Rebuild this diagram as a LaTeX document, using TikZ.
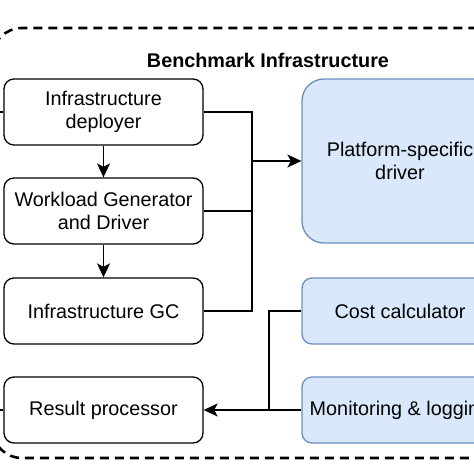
\documentclass[tikz,border=0pt]{standalone}
\usepackage{fontspec}
\setmainfont{Liberation Sans}
\usetikzlibrary{arrows.meta}
\definecolor{bluefill}{HTML}{DAE8FC}
\definecolor{bluedraw}{HTML}{6C8EBF}
\tikzset{
  whitebox/.style={draw=black, fill=white, line width=1.3pt, rounded corners=10pt,
    minimum width=199pt, minimum height=66pt, inner sep=0pt, align=center,
    font=\fontsize{19.8}{23.5}\selectfont},
  bluebox/.style={draw=bluedraw, fill=bluefill, line width=1.3pt, rounded corners=10pt,
    minimum width=196pt, minimum height=66pt, inner sep=0pt, align=center,
    font=\fontsize{19.8}{23.5}\selectfont},
  conn/.style={draw=black, line width=1.3pt},
  arr/.style={conn, -{Stealth[length=14pt, width=13pt, inset=3.5pt]}},
  container/.style={draw=black, line width=2.6pt, dash pattern=on 9pt off 6pt, rounded corners=30pt},
  titletext/.style={font=\fontsize{19.8}{23.5}\selectfont\bfseries, inner sep=0pt}
}
\begin{document}
\begin{tikzpicture}[x=1pt, y=-1pt]
\useasboundingbox (0,0) rectangle (474,474);
\clip (0,0) rectangle (474,474);
\fill[white] (0,0) rectangle (474,474);
\draw[container] (-8,28) rectangle (544,458);
\node[titletext] (title) at (268,60) {Benchmark Infrastructure};
\node[whitebox] (deploy) at (103.5,112) {Infrastructure\\deployer};
\node[whitebox] (work) at (103.5,211) {Workload Generator\\and Driver};
\node[whitebox] (gc) at (103.5,311) {Infrastructure GC};
\node[whitebox] (result) at (103.5,410) {Result processor};
\node[bluebox, minimum height=164pt, rounded corners=22pt] (plat) at (400,161) {Platform-specific\\driver};
\node[bluebox] (cost) at (400,311) {Cost calculator};
\node[bluebox] (mon) at (400,410) {Monitoring \& logging};
\coordinate (jl) at (252,0);
\coordinate (jr) at (269,0);
\coordinate (inA) at (-2,112);
\coordinate (inB) at (-2,410);
\draw[conn] (deploy.east) -| (jl |- gc.east) -- (gc.east);
\draw[conn] (work.east) -- (work.east -| jl);
\draw[arr] (jl |- plat.west) -- (plat.west);
\draw[arr] (deploy.south) -- (work.north);
\draw[arr] (work.south) -- (gc.north);
\draw[conn] (cost.west) -| (jr |- mon.west);
\draw[arr] (mon.west) -- (result.east);
\draw[conn] (inA) -- (deploy.west);
\draw[conn] (inB) -- (result.west);
\end{tikzpicture}
\end{document}
